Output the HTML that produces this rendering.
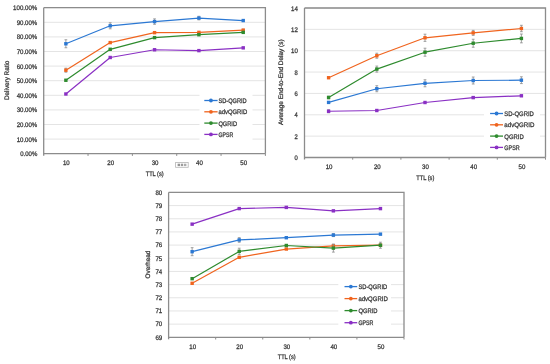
<!DOCTYPE html>
<html><head><meta charset="utf-8"><title>charts</title>
<style>
html,body{margin:0;padding:0;background:#fff;}
body{width:550px;height:364px;overflow:hidden;}
svg{display:block;filter:blur(0.3px);}
text{text-rendering:geometricPrecision;font-family:"Liberation Sans", "DejaVu Sans", sans-serif;font-size:6.6px;fill:#3a3a3a;stroke:#3a3a3a;stroke-width:0.28px;}
</style></head><body>
<svg width="550" height="364" viewBox="0 0 550 364">
<rect width="550" height="364" fill="#fff"/>
<line x1="43.7" y1="139.1" x2="265.4" y2="139.1" stroke="#e1e1e1" stroke-width="0.9"/>
<line x1="43.7" y1="124.5" x2="265.4" y2="124.5" stroke="#e1e1e1" stroke-width="0.9"/>
<line x1="43.7" y1="109.9" x2="265.4" y2="109.9" stroke="#e1e1e1" stroke-width="0.9"/>
<line x1="43.7" y1="95.3" x2="265.4" y2="95.3" stroke="#e1e1e1" stroke-width="0.9"/>
<line x1="43.7" y1="80.7" x2="265.4" y2="80.7" stroke="#e1e1e1" stroke-width="0.9"/>
<line x1="43.7" y1="66.1" x2="265.4" y2="66.1" stroke="#e1e1e1" stroke-width="0.9"/>
<line x1="43.7" y1="51.5" x2="265.4" y2="51.5" stroke="#e1e1e1" stroke-width="0.9"/>
<line x1="43.7" y1="36.9" x2="265.4" y2="36.9" stroke="#e1e1e1" stroke-width="0.9"/>
<line x1="43.7" y1="22.3" x2="265.4" y2="22.3" stroke="#e1e1e1" stroke-width="0.9"/>
<line x1="43.7" y1="7.7" x2="265.4" y2="7.7" stroke="#e1e1e1" stroke-width="0.9"/>
<polyline points="43.7,7.7 265.4,7.7 265.4,153.7" fill="none" stroke="#8c8c8c" stroke-width="1.3"/>
<line x1="43.7" y1="7.7" x2="43.7" y2="155.7" stroke="#8c8c8c" stroke-width="1.3"/>
<line x1="43.7" y1="153.7" x2="265.4" y2="153.7" stroke="#8c8c8c" stroke-width="1.3"/>
<line x1="88.04" y1="153.7" x2="88.04" y2="155.9" stroke="#8c8c8c" stroke-width="1"/>
<line x1="132.38" y1="153.7" x2="132.38" y2="155.9" stroke="#8c8c8c" stroke-width="1"/>
<line x1="176.72" y1="153.7" x2="176.72" y2="155.9" stroke="#8c8c8c" stroke-width="1"/>
<line x1="221.06" y1="153.7" x2="221.06" y2="155.9" stroke="#8c8c8c" stroke-width="1"/>
<line x1="265.4" y1="153.7" x2="265.4" y2="155.9" stroke="#8c8c8c" stroke-width="1"/>
<text x="37.3" y="154.7" text-anchor="end" dominant-baseline="central" textLength="17.11" lengthAdjust="spacingAndGlyphs">0.00%</text>
<text x="37.3" y="140.1" text-anchor="end" dominant-baseline="central" textLength="20.66" lengthAdjust="spacingAndGlyphs">10.00%</text>
<text x="37.3" y="125.5" text-anchor="end" dominant-baseline="central" textLength="20.66" lengthAdjust="spacingAndGlyphs">20.00%</text>
<text x="37.3" y="110.9" text-anchor="end" dominant-baseline="central" textLength="20.66" lengthAdjust="spacingAndGlyphs">30.00%</text>
<text x="37.3" y="96.3" text-anchor="end" dominant-baseline="central" textLength="20.66" lengthAdjust="spacingAndGlyphs">40.00%</text>
<text x="37.3" y="81.7" text-anchor="end" dominant-baseline="central" textLength="20.66" lengthAdjust="spacingAndGlyphs">50.00%</text>
<text x="37.3" y="67.1" text-anchor="end" dominant-baseline="central" textLength="20.66" lengthAdjust="spacingAndGlyphs">60.00%</text>
<text x="37.3" y="52.5" text-anchor="end" dominant-baseline="central" textLength="20.66" lengthAdjust="spacingAndGlyphs">70.00%</text>
<text x="37.3" y="37.9" text-anchor="end" dominant-baseline="central" textLength="20.66" lengthAdjust="spacingAndGlyphs">80.00%</text>
<text x="37.3" y="23.3" text-anchor="end" dominant-baseline="central" textLength="20.66" lengthAdjust="spacingAndGlyphs">90.00%</text>
<text x="37.3" y="8.7" text-anchor="end" dominant-baseline="central" textLength="24.21" lengthAdjust="spacingAndGlyphs">100.00%</text>
<text x="66.37" y="163.5" text-anchor="middle" dominant-baseline="central" textLength="6.8" lengthAdjust="spacingAndGlyphs">10</text>
<text x="110.71" y="163.5" text-anchor="middle" dominant-baseline="central" textLength="6.8" lengthAdjust="spacingAndGlyphs">20</text>
<text x="155.05" y="163.5" text-anchor="middle" dominant-baseline="central" textLength="6.8" lengthAdjust="spacingAndGlyphs">30</text>
<text x="199.39" y="163.5" text-anchor="middle" dominant-baseline="central" textLength="6.8" lengthAdjust="spacingAndGlyphs">40</text>
<text x="243.73" y="163.5" text-anchor="middle" dominant-baseline="central" textLength="6.8" lengthAdjust="spacingAndGlyphs">50</text>
<text x="154.7" y="174" text-anchor="middle" style="font-size:6.5px" dominant-baseline="central" textLength="18.02" lengthAdjust="spacingAndGlyphs">TTL (s)</text>
<text transform="translate(7.2 80.3) rotate(-90)" text-anchor="middle" style="font-size:6.5px" x="0" y="0" dominant-baseline="central" textLength="39.33" lengthAdjust="spacingAndGlyphs">Delivery Ratio</text>
<rect x="199.5" y="94" width="53" height="46" fill="#fff"/>
<path d="M65.87 39.76V47.76M64.47 39.76H67.27M64.47 47.76H67.27" stroke="#8c8c8c" stroke-width="0.8" fill="none"/>
<path d="M110.21 22.8V28.8M108.81 22.8H111.61M108.81 28.8H111.61" stroke="#8c8c8c" stroke-width="0.8" fill="none"/>
<path d="M154.55 18.87V24.27M153.15 18.87H155.95M153.15 24.27H155.95" stroke="#8c8c8c" stroke-width="0.8" fill="none"/>
<path d="M198.89 16.27V19.87M197.49 16.27H200.29M197.49 19.87H200.29" stroke="#8c8c8c" stroke-width="0.8" fill="none"/>
<polyline points="65.87,43.76 110.21,25.8 154.55,21.57 198.89,18.07 243.23,20.55" fill="none" stroke="#2b78d3" stroke-width="1.2" stroke-linejoin="round"/>
<rect x="64.17" y="42.06" width="3.4" height="3.4" fill="#2b78d3"/>
<rect x="108.51" y="24.1" width="3.4" height="3.4" fill="#2b78d3"/>
<rect x="152.85" y="19.87" width="3.4" height="3.4" fill="#2b78d3"/>
<rect x="197.19" y="16.37" width="3.4" height="3.4" fill="#2b78d3"/>
<rect x="241.53" y="18.85" width="3.4" height="3.4" fill="#2b78d3"/>
<path d="M65.87 68.19V72.19M64.47 68.19H67.27M64.47 72.19H67.27" stroke="#8c8c8c" stroke-width="0.8" fill="none"/>
<path d="M243.23 29.18V31.18M241.83 29.18H244.63M241.83 31.18H244.63" stroke="#8c8c8c" stroke-width="0.8" fill="none"/>
<polyline points="65.87,70.19 110.21,42.59 154.55,32.67 198.89,32.37 243.23,30.18" fill="none" stroke="#f0641e" stroke-width="1.2" stroke-linejoin="round"/>
<rect x="64.17" y="68.49" width="3.4" height="3.4" fill="#f0641e"/>
<rect x="108.51" y="40.89" width="3.4" height="3.4" fill="#f0641e"/>
<rect x="152.85" y="30.97" width="3.4" height="3.4" fill="#f0641e"/>
<rect x="197.19" y="30.67" width="3.4" height="3.4" fill="#f0641e"/>
<rect x="241.53" y="28.48" width="3.4" height="3.4" fill="#f0641e"/>
<polyline points="65.87,80.26 110.21,49.31 154.55,37.63 198.89,34.71 243.23,32.37" fill="none" stroke="#2e8b2e" stroke-width="1.2" stroke-linejoin="round"/>
<rect x="64.17" y="78.56" width="3.4" height="3.4" fill="#2e8b2e"/>
<rect x="108.51" y="47.61" width="3.4" height="3.4" fill="#2e8b2e"/>
<rect x="152.85" y="35.93" width="3.4" height="3.4" fill="#2e8b2e"/>
<rect x="197.19" y="33.01" width="3.4" height="3.4" fill="#2e8b2e"/>
<rect x="241.53" y="30.67" width="3.4" height="3.4" fill="#2e8b2e"/>
<polyline points="65.87,93.99 110.21,57.49 154.55,49.75 198.89,50.62 243.23,47.85" fill="none" stroke="#8a30c4" stroke-width="1.2" stroke-linejoin="round"/>
<rect x="64.17" y="92.29" width="3.4" height="3.4" fill="#8a30c4"/>
<rect x="108.51" y="55.79" width="3.4" height="3.4" fill="#8a30c4"/>
<rect x="152.85" y="48.05" width="3.4" height="3.4" fill="#8a30c4"/>
<rect x="197.19" y="48.92" width="3.4" height="3.4" fill="#8a30c4"/>
<rect x="241.53" y="46.15" width="3.4" height="3.4" fill="#8a30c4"/>
<line x1="204.3" y1="100.5" x2="217.6" y2="100.5" stroke="#2b78d3" stroke-width="1.3"/>
<circle cx="210.95" cy="100.5" r="1.9" fill="#2b78d3"/>
<text x="218.4" y="101.5" style="font-size:6.6px" dominant-baseline="central" textLength="28.28" lengthAdjust="spacingAndGlyphs">SD-QGRID</text>
<line x1="204.3" y1="111.8" x2="217.6" y2="111.8" stroke="#f0641e" stroke-width="1.3"/>
<circle cx="210.95" cy="111.8" r="1.9" fill="#f0641e"/>
<text x="218.4" y="112.8" style="font-size:6.6px" dominant-baseline="central" textLength="28.81" lengthAdjust="spacingAndGlyphs">advQGRID</text>
<line x1="204.3" y1="123.1" x2="217.6" y2="123.1" stroke="#2e8b2e" stroke-width="1.3"/>
<circle cx="210.95" cy="123.1" r="1.9" fill="#2e8b2e"/>
<text x="218.4" y="124.1" style="font-size:6.6px" dominant-baseline="central" textLength="18.62" lengthAdjust="spacingAndGlyphs">QGRID</text>
<line x1="204.3" y1="134.4" x2="217.6" y2="134.4" stroke="#8a30c4" stroke-width="1.3"/>
<circle cx="210.95" cy="134.4" r="1.9" fill="#8a30c4"/>
<text x="218.4" y="135.4" style="font-size:6.6px" dominant-baseline="central" textLength="14.75" lengthAdjust="spacingAndGlyphs">GPSR</text>
<line x1="304.5" y1="136.14" x2="545.5" y2="136.14" stroke="#e1e1e1" stroke-width="0.9"/>
<line x1="304.5" y1="114.79" x2="545.5" y2="114.79" stroke="#e1e1e1" stroke-width="0.9"/>
<line x1="304.5" y1="93.43" x2="545.5" y2="93.43" stroke="#e1e1e1" stroke-width="0.9"/>
<line x1="304.5" y1="72.07" x2="545.5" y2="72.07" stroke="#e1e1e1" stroke-width="0.9"/>
<line x1="304.5" y1="50.71" x2="545.5" y2="50.71" stroke="#e1e1e1" stroke-width="0.9"/>
<line x1="304.5" y1="29.36" x2="545.5" y2="29.36" stroke="#e1e1e1" stroke-width="0.9"/>
<line x1="304.5" y1="8" x2="545.5" y2="8" stroke="#e1e1e1" stroke-width="0.9"/>
<polyline points="304.5,8 545.5,8 545.5,157.5" fill="none" stroke="#8c8c8c" stroke-width="1.3"/>
<line x1="304.5" y1="8" x2="304.5" y2="159.5" stroke="#8c8c8c" stroke-width="1.3"/>
<line x1="304.5" y1="157.5" x2="545.5" y2="157.5" stroke="#8c8c8c" stroke-width="1.3"/>
<line x1="352.7" y1="157.5" x2="352.7" y2="159.7" stroke="#8c8c8c" stroke-width="1"/>
<line x1="400.9" y1="157.5" x2="400.9" y2="159.7" stroke="#8c8c8c" stroke-width="1"/>
<line x1="449.1" y1="157.5" x2="449.1" y2="159.7" stroke="#8c8c8c" stroke-width="1"/>
<line x1="497.3" y1="157.5" x2="497.3" y2="159.7" stroke="#8c8c8c" stroke-width="1"/>
<line x1="545.5" y1="157.5" x2="545.5" y2="159.7" stroke="#8c8c8c" stroke-width="1"/>
<text x="297.8" y="158.5" text-anchor="end" dominant-baseline="central" textLength="3.25" lengthAdjust="spacingAndGlyphs">0</text>
<text x="297.8" y="137.14" text-anchor="end" dominant-baseline="central" textLength="3.25" lengthAdjust="spacingAndGlyphs">2</text>
<text x="297.8" y="115.79" text-anchor="end" dominant-baseline="central" textLength="3.25" lengthAdjust="spacingAndGlyphs">4</text>
<text x="297.8" y="94.43" text-anchor="end" dominant-baseline="central" textLength="3.25" lengthAdjust="spacingAndGlyphs">6</text>
<text x="297.8" y="73.07" text-anchor="end" dominant-baseline="central" textLength="3.25" lengthAdjust="spacingAndGlyphs">8</text>
<text x="297.8" y="51.71" text-anchor="end" dominant-baseline="central" textLength="6.8" lengthAdjust="spacingAndGlyphs">10</text>
<text x="297.8" y="30.36" text-anchor="end" dominant-baseline="central" textLength="6.8" lengthAdjust="spacingAndGlyphs">12</text>
<text x="297.8" y="9" text-anchor="end" dominant-baseline="central" textLength="6.8" lengthAdjust="spacingAndGlyphs">14</text>
<text x="329.1" y="167.6" text-anchor="middle" dominant-baseline="central" textLength="6.8" lengthAdjust="spacingAndGlyphs">10</text>
<text x="377.3" y="167.6" text-anchor="middle" dominant-baseline="central" textLength="6.8" lengthAdjust="spacingAndGlyphs">20</text>
<text x="425.5" y="167.6" text-anchor="middle" dominant-baseline="central" textLength="6.8" lengthAdjust="spacingAndGlyphs">30</text>
<text x="473.7" y="167.6" text-anchor="middle" dominant-baseline="central" textLength="6.8" lengthAdjust="spacingAndGlyphs">40</text>
<text x="521.9" y="167.6" text-anchor="middle" dominant-baseline="central" textLength="6.8" lengthAdjust="spacingAndGlyphs">50</text>
<text x="425.3" y="178" text-anchor="middle" style="font-size:6.5px" dominant-baseline="central" textLength="18.02" lengthAdjust="spacingAndGlyphs">TTL (s)</text>
<text transform="translate(281.2 82.2) rotate(-90)" text-anchor="middle" style="font-size:6.5px" x="0" y="0" dominant-baseline="central" textLength="85.43" lengthAdjust="spacingAndGlyphs">Average End-to-End Delay (s)</text>
<rect x="484" y="107" width="56" height="46" fill="#fff"/>
<path d="M376.8 85.73V91.73M375.4 85.73H378.2M375.4 91.73H378.2" stroke="#8c8c8c" stroke-width="0.8" fill="none"/>
<path d="M425 79.78V86.78M423.6 79.78H426.4M423.6 86.78H426.4" stroke="#8c8c8c" stroke-width="0.8" fill="none"/>
<path d="M473.2 77.01V84.01M471.8 77.01H474.6M471.8 84.01H474.6" stroke="#8c8c8c" stroke-width="0.8" fill="none"/>
<path d="M521.4 76.79V83.59M520 76.79H522.8M520 83.59H522.8" stroke="#8c8c8c" stroke-width="0.8" fill="none"/>
<polyline points="328.6,102.4 376.8,88.73 425,83.28 473.2,80.51 521.4,80.19" fill="none" stroke="#2b78d3" stroke-width="1.2" stroke-linejoin="round"/>
<rect x="326.9" y="100.7" width="3.4" height="3.4" fill="#2b78d3"/>
<rect x="375.1" y="87.03" width="3.4" height="3.4" fill="#2b78d3"/>
<rect x="423.3" y="81.58" width="3.4" height="3.4" fill="#2b78d3"/>
<rect x="471.5" y="78.81" width="3.4" height="3.4" fill="#2b78d3"/>
<rect x="519.7" y="78.49" width="3.4" height="3.4" fill="#2b78d3"/>
<path d="M376.8 53.23V58.23M375.4 53.23H378.2M375.4 58.23H378.2" stroke="#8c8c8c" stroke-width="0.8" fill="none"/>
<path d="M425 34.19V41.39M423.6 34.19H426.4M423.6 41.39H426.4" stroke="#8c8c8c" stroke-width="0.8" fill="none"/>
<path d="M473.2 30.38V35.38M471.8 30.38H474.6M471.8 35.38H474.6" stroke="#8c8c8c" stroke-width="0.8" fill="none"/>
<path d="M521.4 25.3V31.7M520 25.3H522.8M520 31.7H522.8" stroke="#8c8c8c" stroke-width="0.8" fill="none"/>
<polyline points="328.6,77.73 376.8,55.73 425,37.79 473.2,32.88 521.4,28.5" fill="none" stroke="#f0641e" stroke-width="1.2" stroke-linejoin="round"/>
<rect x="326.9" y="76.03" width="3.4" height="3.4" fill="#f0641e"/>
<rect x="375.1" y="54.03" width="3.4" height="3.4" fill="#f0641e"/>
<rect x="423.3" y="36.09" width="3.4" height="3.4" fill="#f0641e"/>
<rect x="471.5" y="31.18" width="3.4" height="3.4" fill="#f0641e"/>
<rect x="519.7" y="26.8" width="3.4" height="3.4" fill="#f0641e"/>
<path d="M328.6 96.19V98.79M327.2 96.19H330M327.2 98.79H330" stroke="#8c8c8c" stroke-width="0.8" fill="none"/>
<path d="M376.8 66.08V72.08M375.4 66.08H378.2M375.4 72.08H378.2" stroke="#8c8c8c" stroke-width="0.8" fill="none"/>
<path d="M425 48.21V56.21M423.6 48.21H426.4M423.6 56.21H426.4" stroke="#8c8c8c" stroke-width="0.8" fill="none"/>
<path d="M473.2 39.24V47.24M471.8 39.24H474.6M471.8 47.24H474.6" stroke="#8c8c8c" stroke-width="0.8" fill="none"/>
<path d="M521.4 34.03V42.83M520 34.03H522.8M520 42.83H522.8" stroke="#8c8c8c" stroke-width="0.8" fill="none"/>
<polyline points="328.6,97.49 376.8,69.08 425,52.21 473.2,43.24 521.4,38.43" fill="none" stroke="#2e8b2e" stroke-width="1.2" stroke-linejoin="round"/>
<rect x="326.9" y="95.79" width="3.4" height="3.4" fill="#2e8b2e"/>
<rect x="375.1" y="67.38" width="3.4" height="3.4" fill="#2e8b2e"/>
<rect x="423.3" y="50.51" width="3.4" height="3.4" fill="#2e8b2e"/>
<rect x="471.5" y="41.54" width="3.4" height="3.4" fill="#2e8b2e"/>
<rect x="519.7" y="36.73" width="3.4" height="3.4" fill="#2e8b2e"/>
<path d="M328.6 109.76V112.76M327.2 109.76H330M327.2 112.76H330" stroke="#8c8c8c" stroke-width="0.8" fill="none"/>
<path d="M473.2 96.59V98.59M471.8 96.59H474.6M471.8 98.59H474.6" stroke="#8c8c8c" stroke-width="0.8" fill="none"/>
<polyline points="328.6,111.26 376.8,110.51 425,102.51 473.2,97.59 521.4,95.78" fill="none" stroke="#8a30c4" stroke-width="1.2" stroke-linejoin="round"/>
<rect x="326.9" y="109.56" width="3.4" height="3.4" fill="#8a30c4"/>
<rect x="375.1" y="108.81" width="3.4" height="3.4" fill="#8a30c4"/>
<rect x="423.3" y="100.81" width="3.4" height="3.4" fill="#8a30c4"/>
<rect x="471.5" y="95.89" width="3.4" height="3.4" fill="#8a30c4"/>
<rect x="519.7" y="94.08" width="3.4" height="3.4" fill="#8a30c4"/>
<line x1="490.1" y1="113.5" x2="503" y2="113.5" stroke="#2b78d3" stroke-width="1.3"/>
<circle cx="496.55" cy="113.5" r="1.9" fill="#2b78d3"/>
<text x="504.3" y="114.5" style="font-size:6.6px" dominant-baseline="central" textLength="29.51" lengthAdjust="spacingAndGlyphs">SD-QGRID</text>
<line x1="490.1" y1="124.8" x2="503" y2="124.8" stroke="#f0641e" stroke-width="1.3"/>
<circle cx="496.55" cy="124.8" r="1.9" fill="#f0641e"/>
<text x="504.3" y="125.8" style="font-size:6.6px" dominant-baseline="central" textLength="30.06" lengthAdjust="spacingAndGlyphs">advQGRID</text>
<line x1="490.1" y1="136.1" x2="503" y2="136.1" stroke="#2e8b2e" stroke-width="1.3"/>
<circle cx="496.55" cy="136.1" r="1.9" fill="#2e8b2e"/>
<text x="504.3" y="137.1" style="font-size:6.6px" dominant-baseline="central" textLength="19.43" lengthAdjust="spacingAndGlyphs">QGRID</text>
<line x1="490.1" y1="147.4" x2="503" y2="147.4" stroke="#8a30c4" stroke-width="1.3"/>
<circle cx="496.55" cy="147.4" r="1.9" fill="#8a30c4"/>
<text x="504.3" y="148.4" style="font-size:6.6px" dominant-baseline="central" textLength="15.39" lengthAdjust="spacingAndGlyphs">GPSR</text>
<line x1="168.6" y1="324.13" x2="404" y2="324.13" stroke="#e1e1e1" stroke-width="0.9"/>
<line x1="168.6" y1="310.95" x2="404" y2="310.95" stroke="#e1e1e1" stroke-width="0.9"/>
<line x1="168.6" y1="297.78" x2="404" y2="297.78" stroke="#e1e1e1" stroke-width="0.9"/>
<line x1="168.6" y1="284.61" x2="404" y2="284.61" stroke="#e1e1e1" stroke-width="0.9"/>
<line x1="168.6" y1="271.44" x2="404" y2="271.44" stroke="#e1e1e1" stroke-width="0.9"/>
<line x1="168.6" y1="258.26" x2="404" y2="258.26" stroke="#e1e1e1" stroke-width="0.9"/>
<line x1="168.6" y1="245.09" x2="404" y2="245.09" stroke="#e1e1e1" stroke-width="0.9"/>
<line x1="168.6" y1="231.92" x2="404" y2="231.92" stroke="#e1e1e1" stroke-width="0.9"/>
<line x1="168.6" y1="218.75" x2="404" y2="218.75" stroke="#e1e1e1" stroke-width="0.9"/>
<line x1="168.6" y1="205.57" x2="404" y2="205.57" stroke="#e1e1e1" stroke-width="0.9"/>
<line x1="168.6" y1="192.4" x2="404" y2="192.4" stroke="#e1e1e1" stroke-width="0.9"/>
<polyline points="168.6,192.4 404,192.4 404,337.3" fill="none" stroke="#8c8c8c" stroke-width="1.3"/>
<line x1="168.6" y1="192.4" x2="168.6" y2="339.3" stroke="#8c8c8c" stroke-width="1.3"/>
<line x1="168.6" y1="337.3" x2="404" y2="337.3" stroke="#8c8c8c" stroke-width="1.3"/>
<line x1="215.68" y1="337.3" x2="215.68" y2="339.5" stroke="#8c8c8c" stroke-width="1"/>
<line x1="262.76" y1="337.3" x2="262.76" y2="339.5" stroke="#8c8c8c" stroke-width="1"/>
<line x1="309.84" y1="337.3" x2="309.84" y2="339.5" stroke="#8c8c8c" stroke-width="1"/>
<line x1="356.92" y1="337.3" x2="356.92" y2="339.5" stroke="#8c8c8c" stroke-width="1"/>
<line x1="404" y1="337.3" x2="404" y2="339.5" stroke="#8c8c8c" stroke-width="1"/>
<text x="162.2" y="338.1" text-anchor="end" dominant-baseline="central" textLength="6.8" lengthAdjust="spacingAndGlyphs">69</text>
<text x="162.2" y="324.93" text-anchor="end" dominant-baseline="central" textLength="6.8" lengthAdjust="spacingAndGlyphs">70</text>
<text x="162.2" y="311.75" text-anchor="end" dominant-baseline="central" textLength="6.8" lengthAdjust="spacingAndGlyphs">71</text>
<text x="162.2" y="298.58" text-anchor="end" dominant-baseline="central" textLength="6.8" lengthAdjust="spacingAndGlyphs">72</text>
<text x="162.2" y="285.41" text-anchor="end" dominant-baseline="central" textLength="6.8" lengthAdjust="spacingAndGlyphs">73</text>
<text x="162.2" y="272.24" text-anchor="end" dominant-baseline="central" textLength="6.8" lengthAdjust="spacingAndGlyphs">74</text>
<text x="162.2" y="259.06" text-anchor="end" dominant-baseline="central" textLength="6.8" lengthAdjust="spacingAndGlyphs">75</text>
<text x="162.2" y="245.89" text-anchor="end" dominant-baseline="central" textLength="6.8" lengthAdjust="spacingAndGlyphs">76</text>
<text x="162.2" y="232.72" text-anchor="end" dominant-baseline="central" textLength="6.8" lengthAdjust="spacingAndGlyphs">77</text>
<text x="162.2" y="219.55" text-anchor="end" dominant-baseline="central" textLength="6.8" lengthAdjust="spacingAndGlyphs">78</text>
<text x="162.2" y="206.37" text-anchor="end" dominant-baseline="central" textLength="6.8" lengthAdjust="spacingAndGlyphs">79</text>
<text x="162.2" y="193.2" text-anchor="end" dominant-baseline="central" textLength="6.8" lengthAdjust="spacingAndGlyphs">80</text>
<text x="192.64" y="347.3" text-anchor="middle" dominant-baseline="central" textLength="6.8" lengthAdjust="spacingAndGlyphs">10</text>
<text x="239.72" y="347.3" text-anchor="middle" dominant-baseline="central" textLength="6.8" lengthAdjust="spacingAndGlyphs">20</text>
<text x="286.8" y="347.3" text-anchor="middle" dominant-baseline="central" textLength="6.8" lengthAdjust="spacingAndGlyphs">30</text>
<text x="333.88" y="347.3" text-anchor="middle" dominant-baseline="central" textLength="6.8" lengthAdjust="spacingAndGlyphs">40</text>
<text x="380.96" y="347.3" text-anchor="middle" dominant-baseline="central" textLength="6.8" lengthAdjust="spacingAndGlyphs">50</text>
<text x="286.7" y="357" text-anchor="middle" style="font-size:6.5px" dominant-baseline="central" textLength="18.02" lengthAdjust="spacingAndGlyphs">TTL (s)</text>
<text transform="translate(148.1 264.6) rotate(-90)" text-anchor="middle" style="font-size:6.5px" x="0" y="0" dominant-baseline="central" textLength="27.62" lengthAdjust="spacingAndGlyphs">Overhead</text>
<rect x="338.3" y="280" width="52.7" height="49" fill="#fff"/>
<path d="M192.14 247.68V255.68M190.74 247.68H193.54M190.74 255.68H193.54" stroke="#8c8c8c" stroke-width="0.8" fill="none"/>
<path d="M239.22 237.65V242.25M237.82 237.65H240.62M237.82 242.25H240.62" stroke="#8c8c8c" stroke-width="0.8" fill="none"/>
<path d="M333.38 233.58V236.58M331.98 233.58H334.78M331.98 236.58H334.78" stroke="#8c8c8c" stroke-width="0.8" fill="none"/>
<polyline points="192.14,251.68 239.22,239.95 286.3,237.71 333.38,235.08 380.46,234.16" fill="none" stroke="#2b78d3" stroke-width="1.2" stroke-linejoin="round"/>
<rect x="190.44" y="249.98" width="3.4" height="3.4" fill="#2b78d3"/>
<rect x="237.52" y="238.25" width="3.4" height="3.4" fill="#2b78d3"/>
<rect x="284.6" y="236.01" width="3.4" height="3.4" fill="#2b78d3"/>
<rect x="331.68" y="233.38" width="3.4" height="3.4" fill="#2b78d3"/>
<rect x="378.76" y="232.46" width="3.4" height="3.4" fill="#2b78d3"/>
<path d="M333.38 244.38V247.38M331.98 244.38H334.78M331.98 247.38H334.78" stroke="#8c8c8c" stroke-width="0.8" fill="none"/>
<polyline points="192.14,283.29 239.22,257.34 286.3,249.04 333.38,245.88 380.46,245.22" fill="none" stroke="#f0641e" stroke-width="1.2" stroke-linejoin="round"/>
<rect x="190.44" y="281.59" width="3.4" height="3.4" fill="#f0641e"/>
<rect x="237.52" y="255.64" width="3.4" height="3.4" fill="#f0641e"/>
<rect x="284.6" y="247.34" width="3.4" height="3.4" fill="#f0641e"/>
<rect x="331.68" y="244.18" width="3.4" height="3.4" fill="#f0641e"/>
<rect x="378.76" y="243.52" width="3.4" height="3.4" fill="#f0641e"/>
<path d="M239.22 248.21V254.61M237.82 248.21H240.62M237.82 254.61H240.62" stroke="#8c8c8c" stroke-width="0.8" fill="none"/>
<path d="M333.38 244.12V252.12M331.98 244.12H334.78M331.98 252.12H334.78" stroke="#8c8c8c" stroke-width="0.8" fill="none"/>
<path d="M380.46 242.22V248.22M379.06 242.22H381.86M379.06 248.22H381.86" stroke="#8c8c8c" stroke-width="0.8" fill="none"/>
<polyline points="192.14,278.68 239.22,251.41 286.3,245.49 333.38,248.12 380.46,245.22" fill="none" stroke="#2e8b2e" stroke-width="1.2" stroke-linejoin="round"/>
<rect x="190.44" y="276.98" width="3.4" height="3.4" fill="#2e8b2e"/>
<rect x="237.52" y="249.71" width="3.4" height="3.4" fill="#2e8b2e"/>
<rect x="284.6" y="243.79" width="3.4" height="3.4" fill="#2e8b2e"/>
<rect x="331.68" y="246.42" width="3.4" height="3.4" fill="#2e8b2e"/>
<rect x="378.76" y="243.52" width="3.4" height="3.4" fill="#2e8b2e"/>
<polyline points="192.14,224.15 239.22,208.6 286.3,207.42 333.38,210.84 380.46,208.6" fill="none" stroke="#8a30c4" stroke-width="1.2" stroke-linejoin="round"/>
<rect x="190.44" y="222.45" width="3.4" height="3.4" fill="#8a30c4"/>
<rect x="237.52" y="206.9" width="3.4" height="3.4" fill="#8a30c4"/>
<rect x="284.6" y="205.72" width="3.4" height="3.4" fill="#8a30c4"/>
<rect x="331.68" y="209.14" width="3.4" height="3.4" fill="#8a30c4"/>
<rect x="378.76" y="206.9" width="3.4" height="3.4" fill="#8a30c4"/>
<line x1="344.5" y1="286.6" x2="357.2" y2="286.6" stroke="#2b78d3" stroke-width="1.3"/>
<circle cx="350.85" cy="286.6" r="1.9" fill="#2b78d3"/>
<text x="358.4" y="287.6" style="font-size:6.6px" dominant-baseline="central" textLength="28.89" lengthAdjust="spacingAndGlyphs">SD-QGRID</text>
<line x1="344.5" y1="298.6" x2="357.2" y2="298.6" stroke="#f0641e" stroke-width="1.3"/>
<circle cx="350.85" cy="298.6" r="1.9" fill="#f0641e"/>
<text x="358.4" y="299.6" style="font-size:6.6px" dominant-baseline="central" textLength="29.44" lengthAdjust="spacingAndGlyphs">advQGRID</text>
<line x1="344.5" y1="310.6" x2="357.2" y2="310.6" stroke="#2e8b2e" stroke-width="1.3"/>
<circle cx="350.85" cy="310.6" r="1.9" fill="#2e8b2e"/>
<text x="358.4" y="311.6" style="font-size:6.6px" dominant-baseline="central" textLength="19.03" lengthAdjust="spacingAndGlyphs">QGRID</text>
<line x1="344.5" y1="322.7" x2="357.2" y2="322.7" stroke="#8a30c4" stroke-width="1.3"/>
<circle cx="350.85" cy="322.7" r="1.9" fill="#8a30c4"/>
<text x="358.4" y="323.7" style="font-size:6.6px" dominant-baseline="central" textLength="15.07" lengthAdjust="spacingAndGlyphs">GPSR</text>
<rect x="175.6" y="162.4" width="12.6" height="4.9" fill="#fff" stroke="#b5b5b5" stroke-width="0.8"/><rect x="177.6" y="163.7" width="2.4" height="2.4" fill="#939393"/><rect x="180.8" y="163.7" width="2.4" height="2.4" fill="#9c9c9c"/><rect x="184" y="163.7" width="2.4" height="2.4" fill="#ababab"/>
</svg>
</body></html>
